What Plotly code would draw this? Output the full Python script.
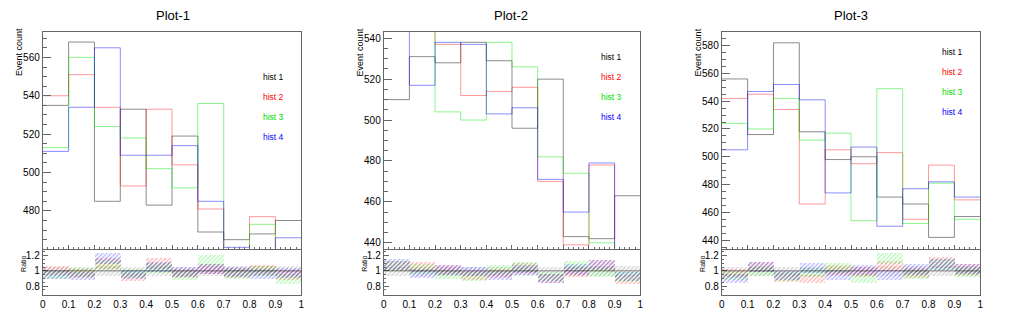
import numpy as np
import plotly.graph_objects as go

W, H = 1024, 322

# ---------------- data ----------------
edges = [0.0, 0.1, 0.2, 0.3, 0.4, 0.5, 0.6, 0.7, 0.8, 0.9, 1.0]
hist_names = ["hist 1", "hist 2", "hist 3", "hist 4"]
titles = ["Plot-1", "Plot-2", "Plot-3"]

p1_h1 = [535, 568, 485, 533, 483, 519, 469, 465, 468, 475]
p1_h2 = [540, 551, 534, 493, 533, 504, 481, 455, 477, 452]
p1_h3 = [513, 560, 524, 518, 502, 492, 536, 449, 473, 427]
p1_h4 = [511, 534, 565, 509, 509, 514, 485, 461, 450, 466]

p2_h1 = [510, 531, 528, 538, 529, 496, 520, 443, 442, 463]
p2_h2 = [548, 560, 537, 512, 514, 516, 470, 439, 478, 412]
p2_h3 = [546, 546, 504, 500, 538, 526, 482, 474, 440, 430]
p2_h4 = [556, 517, 538, 537, 503, 506, 471, 455, 479, 432]

p3_h1 = [556, 516, 582, 518, 498, 500, 471, 466, 442, 457]
p3_h2 = [542, 545, 534, 466, 505, 495, 503, 455, 494, 469]
p3_h3 = [524, 520, 542, 512, 517, 454, 549, 452, 481, 455]
p3_h4 = [505, 547, 552, 541, 474, 507, 450, 477, 482, 471]

panels = [
    [p1_h1, p1_h2, p1_h3, p1_h4],
    [p2_h1, p2_h2, p2_h3, p2_h4],
    [p3_h1, p3_h2, p3_h3, p3_h4],
]
y_ranges = [[460.4, 573.4], [437.2, 543.2], [434.0, 590.0]]
ratio_range = [0.69, 1.28]

# ---------------- style ----------------
line_cols = ["rgba(0,0,0,0.45)", "rgba(255,0,0,0.4)", "rgba(0,230,0,0.45)", "rgba(0,0,255,0.45)"]
hatch_cols = ["rgba(0,0,0,0.32)", "rgba(255,0,0,0.55)", "rgba(0,230,0,0.55)", "rgba(0,0,255,0.55)"]
text_cols = ["#000000", "#ff0000", "#00e000", "#0000ff"]
FONT = "Liberation Sans, Arial, Helvetica, sans-serif"
FRAME = "#666666"

# pixel layout of the frames
frames_x = [(40, 300), (383, 641), (723, 983)]
main_top, main_bot, ratio_top, ratio_bot = 31.7, 248.5, 249.5, 294.5
title_x = [170.7, 510.7, 853.3]
legend_pos = [(260, 77.3), (600, 56.7), (943, 52.3)]
evt_x = [15.7, 359.0, 699.0]
ratio_lbl_x = [20.0, 363.0, 703.0]


def px(x):
    return x / W


def py(y):
    return 1 - y / H


fig = go.Figure()
annotations = []
shapes = []
layout_axes = {}

edges_arr = np.array(edges)
centers = (edges_arr[:-1] + edges_arr[1:]) / 2
widths = np.diff(edges_arr)

for i, hists in enumerate(panels):
    mx, my = 2 * i + 1, 2 * i + 1
    rx, ry = 2 * i + 2, 2 * i + 2
    xm = "x" if mx == 1 else f"x{mx}"
    ym = "y" if my == 1 else f"y{my}"
    xr, yr = f"x{rx}", f"y{ry}"

    # histograms (step lines)
    for k, h in enumerate(hists):
        fig.add_trace(go.Scatter(
            x=edges, y=list(h) + [h[-1]], mode="lines",
            line=dict(color=line_cols[k], width=1, shape="hv"),
            xaxis=xm, yaxis=ym, showlegend=False, hoverinfo="skip"))

    # ratio bands (ratio to hist 1 with statistical error)
    ref = np.array(hists[0], dtype=float)
    for k, h in enumerate(hists):
        h = np.array(h, dtype=float)
        r = h / ref
        err = r * np.sqrt(1.0 / h + 1.0 / ref)
        fig.add_trace(go.Bar(
            x=centers, y=2 * err, base=r - err, width=widths,
            marker=dict(color="rgba(0,0,0,0)", line=dict(width=0),
                        pattern=dict(shape="/", fgcolor=hatch_cols[k],
                                     bgcolor="rgba(0,0,0,0)", size=3,
                                     solidity=0.45, fillmode="overlay")),
            xaxis=xr, yaxis=yr, showlegend=False, hoverinfo="skip"))

    shapes.append(dict(type="line", xref=f"{xr} domain", yref=yr,
                       x0=0, x1=1, y0=1, y1=1,
                       line=dict(color="rgba(0,0,0,0.5)", width=1)))

    L, R = frames_x[i]
    xd = [px(L), px(R)]
    common = dict(showline=True, mirror=True, linecolor=FRAME, linewidth=1,
                  showgrid=False, zeroline=False,
                  tickfont=dict(size=10, family=FONT, color="#000"))

    layout_axes[f"xaxis{mx}" if mx > 1 else "xaxis"] = dict(
        domain=xd, range=[0, 1], anchor=ym, showticklabels=False,
        ticks="inside", ticklen=4, tickcolor=FRAME, tick0=0, dtick=0.1,
        minor=dict(ticks="inside", ticklen=2, dtick=0.02, tickcolor=FRAME),
        **common)
    layout_axes[f"yaxis{my}" if my > 1 else "yaxis"] = dict(
        domain=[py(main_bot), py(main_top)], range=y_ranges[i], anchor=xm,
        ticks="inside", ticklen=8, tickcolor=FRAME, tick0=0, dtick=20,
        minor=dict(ticks="inside", ticklen=4, dtick=5, tick0=0, tickcolor=FRAME),
        **common)
    layout_axes[f"xaxis{rx}"] = dict(
        domain=xd, range=[0, 1], anchor=yr, ticks="", tick0=0, dtick=0.1,
        **common)
    layout_axes[f"yaxis{ry}"] = dict(
        domain=[py(ratio_bot), py(ratio_top)], range=ratio_range, anchor=xr,
        ticks="inside", ticklen=5, tickcolor=FRAME, tick0=0.8, dtick=0.2,
        minor=dict(ticks="inside", ticklen=2.5, dtick=0.05, tick0=0, tickcolor=FRAME),
        **common)

    # title
    annotations.append(dict(text=titles[i], x=px(title_x[i]), y=py(16), xref="paper", yref="paper",
                            xanchor="center", yanchor="middle", showarrow=False,
                            font=dict(size=13, family=FONT, color="#000")))
    # axis titles
    annotations.append(dict(text="Event count", x=px(evt_x[i]), y=py(52.5), xref="paper", yref="paper",
                            xanchor="center", yanchor="middle", showarrow=False, textangle=-90,
                            font=dict(size=9, family=FONT, color="#000")))
    annotations.append(dict(text="Ratio", x=px(ratio_lbl_x[i]), y=py(264), xref="paper", yref="paper",
                            xanchor="center", yanchor="middle", showarrow=False, textangle=-90,
                            font=dict(size=7, family=FONT, color="#000")))
    # legend
    lx, ly = legend_pos[i]
    for k, name in enumerate(hist_names):
        annotations.append(dict(text=name, x=px(lx), y=py(ly + 20 * k), xref="paper", yref="paper",
                                xanchor="left", yanchor="middle", showarrow=False,
                                font=dict(size=8.5, family=FONT, color=text_cols[k])))

fig.update_layout(
    width=W, height=H, margin=dict(l=0, r=0, t=0, b=0),
    paper_bgcolor="white", plot_bgcolor="white",
    barmode="overlay", bargap=0, showlegend=False,
    annotations=annotations, shapes=shapes,
    font=dict(family=FONT, color="#000"),
    **layout_axes)

fig.write_html("out.html")
